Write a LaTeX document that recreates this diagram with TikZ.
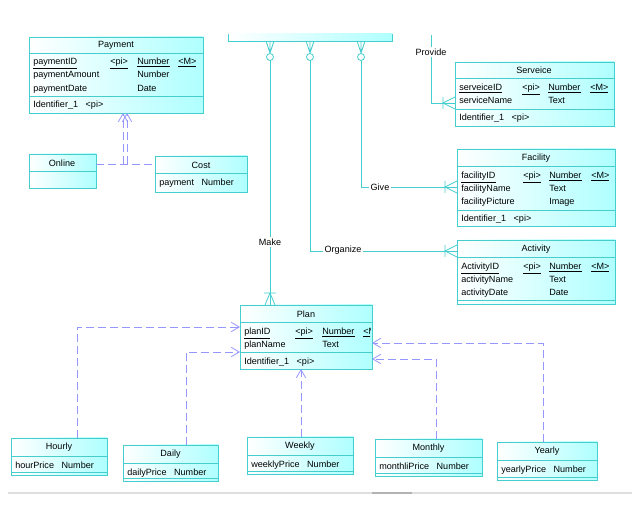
\documentclass[tikz,border=0pt]{standalone}
\usepackage{fontspec}
\setmainfont{Liberation Sans}
\usetikzlibrary{arrows.meta}
\definecolor{bd}{RGB}{70,205,205}
\definecolor{cy}{RGB}{175,255,255}
\definecolor{dl}{RGB}{150,150,255}
\begin{document}
\begin{tikzpicture}[x=0.75pt,y=-0.75pt,
  ent/.style={draw=bd,line width=0.6pt,left color=white,right color=cy},
  sep/.style={draw=bd,line width=0.6pt},
  rel/.style={draw=bd,line width=0.6pt},
  dsh/.style={draw=dl,line width=0.6pt,dash pattern=on 6pt off 3pt},
  arr/.style={dsh,-{Straight Barb[open,length=6pt,width=7pt]}},
  t/.style={inner sep=0pt,font=\fontsize{6.8}{8}\selectfont,anchor=base west,yshift=-2.4pt},
  tc/.style={inner sep=0pt,font=\fontsize{6.8}{8}\selectfont},
  lb/.style={inner sep=1pt,fill=white,font=\fontsize{6.8}{8}\selectfont}]
\useasboundingbox (0,0) rectangle (639,516);
% scroll bar
\draw[gray!25,line width=2pt] (8,493) -- (632,493);
\draw[gray!60,line width=2pt] (372,493) -- (412,493);
% top cut box
\fill[left color=white,right color=cy] (228,34) rectangle (392,41);
\draw[sep] (228,34) -- (228,41) -- (392,41) -- (392,34);
% Payment
\draw[ent] (29,37) rectangle (203,113);
\draw[sep] (29,53) -- (203,53) (29,96) -- (203,96);
\node[tc] (payt) at (116,45) {Payment};
\node[t] at (33,61) {\underline{paymentID}};
\node[t] at (110,61) {\underline{<pi>}};
\node[t] at (137,61) {\underline{Number}};
\node[t] at (178,61) {\underline{<M>}};
\node[t] at (33,74) {paymentAmount};
\node[t] at (137,74) {Number};
\node[t] at (33,88) {paymentDate};
\node[t] at (137,88) {Date};
\node[t] at (33,104) {Identifier\_1\ \ \ <pi>};
% Online
\draw[ent] (29,154) rectangle (96,188);
\draw[sep] (29,171) -- (96,171);
\node[tc] (onl) at (62,163) {Online};
% Cost
\draw[ent] (155,156) rectangle (247,192);
\draw[sep] (155,173) -- (247,173);
\node[tc] (cost) at (201,165) {Cost};
\node[t] at (159,182) {payment\ \ \ Number};
% inheritance Payment
\coordinate (pb1) at (123,113);
\coordinate (pb2) at (127,113);
\draw[dsh] (96,164) -- (155,164);
\draw[arr] (123,164) -- (pb1);
\draw[arr] (127,164) -- (pb2);
% Serveice
\draw[ent] (455,62) rectangle (614,126);
\draw[sep] (455,78) -- (614,78) (455,109) -- (614,109);
\node[tc] (serv) at (534,70) {Serveice};
\node[t] at (459,87) {\underline{serveiceID}};
\node[t] at (522,87) {\underline{<pi>}};
\node[t] at (548,87) {\underline{Number}};
\node[t] at (590,87) {\underline{<M>}};
\node[t] at (459,100) {serviceName};
\node[t] at (548,100) {Text};
\node[t] at (459,117) {Identifier\_1\ \ \ <pi>};
% Facility
\draw[ent] (457,149) rectangle (615,226);
\draw[sep] (457,166) -- (615,166) (457,210) -- (615,210);
\node[tc] (fac) at (536,158) {Facility};
\node[t] at (461,175) {\underline{facilityID}};
\node[t] at (523,175) {\underline{<pi>}};
\node[t] at (549,175) {\underline{Number}};
\node[t] at (591,175) {\underline{<M>}};
\node[t] at (461,188) {facilityName};
\node[t] at (549,188) {Text};
\node[t] at (461,201) {facilityPicture};
\node[t] at (549,201) {Image};
\node[t] at (461,218) {Identifier\_1\ \ \ <pi>};
% Activity
\draw[ent] (457,240) rectangle (615,304);
\draw[sep] (457,257) -- (615,257) (457,300) -- (615,300);
\node[tc] (act) at (536,249) {Activity};
\node[t] at (461,266) {\underline{ActivityID}};
\node[t] at (523,266) {\underline{<pi>}};
\node[t] at (549,266) {\underline{Number}};
\node[t] at (591,266) {\underline{<M>}};
\node[t] at (461,279) {activityName};
\node[t] at (549,279) {Text};
\node[t] at (461,292) {activityDate};
\node[t] at (549,292) {Date};
% Plan
\draw[ent] (240,305) rectangle (372,369);
\draw[sep] (240,322) -- (372,322) (240,352) -- (372,352);
\node[tc] (plan) at (306,314) {Plan};
\node[t] at (244,331) {\underline{planID}};
\node[t] at (295,331) {\underline{<pi>}};
\node[t] at (322,331) {\underline{Number}};
\begin{scope}\clip (360,322) rectangle (370,340);
\node[t] at (363,331) {\underline{<M>}};\end{scope}
\node[t] at (244,344) {planName};
\node[t] at (322,344) {Text};
\node[t] at (244,361) {Identifier\_1\ \ \ <pi>};
% relationships from top box
\foreach \x in {270,310,361}{
  \draw[rel] (\x-4,41) -- (\x,53) -- (\x+4,41) (\x,41) -- (\x,53);
  \draw[rel,fill=white] (\x,57) circle (3.5);
}
% Make
\draw[rel] (270,60.5) -- (270,305);
\draw[rel] (265,305) -- (270,293) -- (275,305) (264,293) -- (276,293);
\node[lb] at (270,242) {Make};
% Organize
\draw[rel] (310,60.5) -- (310,251) -- (457,251);
\node[lb] at (343,250) {Organize};
% Give
\draw[rel] (361,60.5) -- (361,187) -- (457,187);
\node[lb] at (380,187) {Give};
% Provide
\draw[rel] (431,35) -- (431,103) -- (455,103);
\node[lb] at (431,52) {Provide};
% crow feet on right entities
\foreach \ex/\ey in {455/103,457/187,457/251}{
  \draw[rel] (\ex,\ey-6) -- (\ex-12,\ey) -- (\ex,\ey+6) (\ex-12,\ey-6) -- (\ex-12,\ey+6);
}
% subtypes
\foreach \n/\xa/\ya/\xb/\yb/\a in {Hourly/11/438/107/475/hourPrice,Daily/123/445/218/481/dailyPrice,Weekly/247/437/353/474/weeklyPrice,Monthly/375/439/482/476/monthliPrice,Yearly/497/442/597/480/yearlyPrice}{
  \draw[ent] (\xa,\ya) rectangle (\xb,\yb);
  \draw[sep] (\xa,\ya+18) -- (\xb,\ya+18) (\xa,\yb-3) -- (\xb,\yb-3);
  \node[tc] (\n) at ({(\xa+\xb)/2},\ya+9) {\n};
  \node[t] at (\xa+4,\ya+27) {\a\ \ \ Number};
}
\coordinate (p1) at (240,327);
\coordinate (p2) at (240,352);
\coordinate (p3) at (301,369);
\coordinate (p4) at (372,359);
\coordinate (p5) at (372,343);
\draw[arr] (77,438) -- (77,327) -- (p1);
\draw[arr] (186,445) -- (186,352) -- (p2);
\draw[arr] (301,437) -- (p3);
\draw[arr] (436,439) -- (436,359) -- (p4);
\draw[arr] (543,442) -- (543,343) -- (p5);
\end{tikzpicture}
\end{document}
